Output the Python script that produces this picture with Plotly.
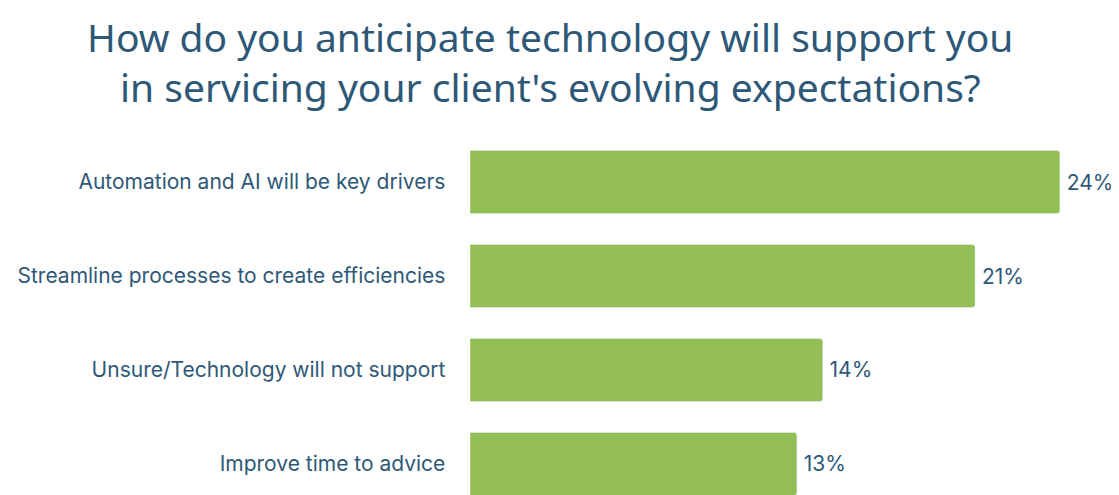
import plotly.graph_objects as go

categories = [
    "Automation and AI will be key drivers",
    "Streamline processes to create efficiencies",
    "Unsure/Technology will not support",
    "Improve time to advice",
]
shares = [24, 20.55, 14.35, 13.3]
labels = ["24%", "21%", "14%", "13%"]

title_lines = [
    "How do you anticipate technology will support you",
    "in servicing your client's evolving expectations?",
]

text_color = "#2E5877"
bar_color = "#93BE56"

fig = go.Figure()
fig.add_trace(
    go.Bar(
        x=shares,
        y=categories,
        orientation="h",
        marker=dict(color=bar_color, cornerradius=3),
        text=["\u2009" + t for t in labels],
        textposition="outside",
        textfont=dict(family="Inter", size=21, color=text_color),
        cliponaxis=False,
        hoverinfo="skip",
    )
)

# title written as two one-line annotations, 50px apart
for i, line in enumerate(title_lines):
    fig.add_annotation(
        text=line,
        xref="paper",
        yref="paper",
        x=0.1218,
        y=1.345 - i * 50 / 368,
        xanchor="center",
        yanchor="top",
        showarrow=False,
        font=dict(family="Noto Sans", size=39, color=text_color),
    )

fig.update_layout(
    width=1119,
    height=495,
    margin=dict(l=462, r=0, t=127, b=0),
    paper_bgcolor="white",
    plot_bgcolor="white",
    showlegend=False,
    bargap=0.33,
    font=dict(family="Inter", size=21, color=text_color),
)

fig.update_xaxes(range=[0, 26.73], visible=False)
fig.update_yaxes(
    range=[3.415, -0.5],
    showgrid=False,
    showline=False,
    zeroline=False,
    ticks="",
    ticksuffix="    ",
    tickfont=dict(family="Inter", size=21, color=text_color),
    automargin=False,
)

fig.write_html("out.html")
